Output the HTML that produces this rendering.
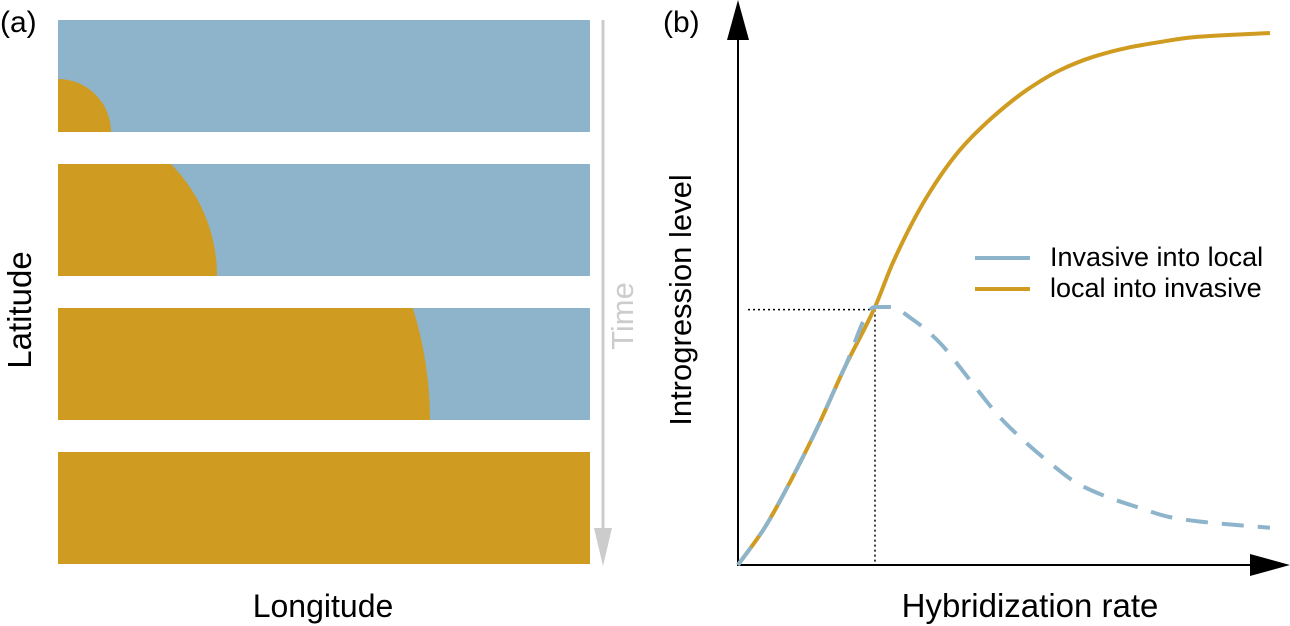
<!DOCTYPE html>
<html><head><meta charset="utf-8"><style>
html,body{margin:0;padding:0;background:#fff;overflow:hidden;width:1290px;height:626px;}
svg{display:block;font-family:"Liberation Sans",Arial,sans-serif;}
</style></head><body>
<svg width="1290" height="626" viewBox="0 0 1290 626">
<text x="0" y="32" font-size="30">(a)</text>
<text x="663" y="32" font-size="30">(b)</text>
<g id="panelA"></g>
<line x1="603" y1="20" x2="603" y2="530" stroke="#cccccc" stroke-width="3"/>
<polygon points="594,528 612,528 603,566" fill="#cccccc"/>
<text transform="translate(633,316) rotate(-90)" text-anchor="middle" font-size="31" fill="#cccccc">Time</text>
<text transform="translate(31,310) rotate(-90)" text-anchor="middle" font-size="33">Latitude</text>
<text x="323" y="617" text-anchor="middle" font-size="32">Longitude</text>

<line x1="738" y1="566" x2="738" y2="35" stroke="#000" stroke-width="2"/>
<polygon points="727,40 749,40 738,0" fill="#000"/>
<line x1="737" y1="565" x2="1255" y2="565" stroke="#000" stroke-width="2"/>
<polygon points="1250,554 1250,576 1290,565" fill="#000"/>
<text transform="translate(691,300) rotate(-90)" text-anchor="middle" font-size="31">Introgression level</text>
<text x="1030" y="617" text-anchor="middle" font-size="33">Hybridization rate</text>
<g id="chart"></g>
<line x1="975" y1="258" x2="1030" y2="258" stroke="#8db4cb" stroke-width="4"/>
<text x="1050" y="266" font-size="27">Invasive into local</text>
<line x1="975" y1="289" x2="1030" y2="289" stroke="#cf9b20" stroke-width="4"/>
<text x="1050" y="297" font-size="27">local into invasive</text>
</svg>
<script>
const ratesLocal=[0,0.05,0.1,0.15,0.2,0.2575,0.291,0.355,0.417,0.479,0.543,0.605,0.667,0.731,0.793,0.855,1.0];
const localIntoInvasive=[0,0.07,0.16,0.26,0.37,0.485,0.568,0.692,0.78,0.842,0.893,0.93,0.955,0.972,0.983,0.992,1.0];
const ratesInvasive=[0,0.05,0.1,0.15,0.2,0.2575,0.286,0.329,0.38,0.417,0.455,0.492,0.536,0.586,0.637,0.694,0.75,0.812,0.874,1.0];
const invasiveIntoLocal=[0,0.07,0.16,0.26,0.37,0.485,0.485,0.461,0.417,0.372,0.323,0.278,0.235,0.192,0.154,0.128,0.109,0.09,0.081,0.07];
const markRate=0.2575, markLevel=0.48;
const spreadRadii=[53,159,372,700];
const NS="http://www.w3.org/2000/svg";
const sx=v=>738+v*532, sy=v=>565-v*532;
function path(xs,ys){const p=xs.map((x,i)=>[sx(x),sy(ys[i])]);
const n=p.length,m=[],dx=[],s=[];
for(let i=0;i<n-1;i++){dx.push(p[i+1][0]-p[i][0]);s.push((p[i+1][1]-p[i][1])/dx[i]);}
m[0]=s[0];m[n-1]=s[n-2];
for(let i=1;i<n-1;i++){m[i]=(s[i-1]*s[i]<=0)?0:3*(dx[i-1]+dx[i])/((2*dx[i]+dx[i-1])/s[i-1]+(dx[i]+2*dx[i-1])/s[i]);}
let d=`M${p[0][0]},${p[0][1]}`;
for(let i=0;i<n-1;i++){const h=dx[i]/3;
d+=` C${p[i][0]+h},${p[i][1]+m[i]*h} ${p[i+1][0]-h},${p[i+1][1]-m[i+1]*h} ${p[i+1][0]},${p[i+1][1]}`;}
return d;}
const g=document.getElementById('chart');
function mk(tag,attrs){const e=document.createElementNS(NS,tag);for(const k in attrs)e.setAttribute(k,attrs[k]);return e;}
let e=mk('line',{x1:748,y1:sy(markLevel),x2:sx(markRate),y2:sy(markLevel),stroke:'#000','stroke-width':1.5,'stroke-dasharray':'2 3'});

g.appendChild(e);
e=mk('line',{x1:sx(markRate),y1:sy(markLevel),x2:sx(markRate),y2:565,stroke:'#000','stroke-width':1.5,'stroke-dasharray':'2 3'});

g.appendChild(e);
e=mk('path',{d:path(ratesLocal,localIntoInvasive),fill:'none',stroke:'#cf9b20','stroke-width':4});

g.appendChild(e);
e=mk('path',{d:path(ratesInvasive,invasiveIntoLocal),fill:'none',stroke:'#8db4cb','stroke-width':4,'stroke-dasharray':'22 14'});

g.appendChild(e);
const A=document.getElementById('panelA');
const tops=[20,164,308,452];
tops.forEach((t,i)=>{
 const cp=mk('clipPath',{id:'c'+i});cp.appendChild(mk('rect',{x:58,y:t,width:532,height:112}));A.appendChild(cp);
 let r=mk('rect',{x:58,y:t,width:532,height:112,fill:'#8db4cb'});
 
 A.appendChild(r);
 let c=mk('circle',{cx:58,cy:t+112,r:spreadRadii[i],fill:'#cf9b20','clip-path':`url(#c${i})`});
 
 A.appendChild(c);
});
</script>
</body></html>
